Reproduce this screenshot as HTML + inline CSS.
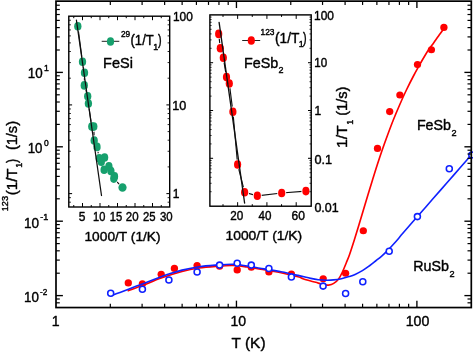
<!DOCTYPE html>
<html><head><meta charset="utf-8"><title>plot</title>
<style>html,body{margin:0;padding:0;background:#fff}svg{display:block}text{font-family:"Liberation Sans",sans-serif;stroke:#000;stroke-width:0.4px;stroke-linejoin:round}</style>
</head><body>
<svg width="473" height="352" viewBox="0 0 473 352">
<defs><filter id="soft" x="0" y="0" width="473" height="352" filterUnits="userSpaceOnUse"><feGaussianBlur stdDeviation="0.35"/></filter></defs>
<rect width="473" height="352" fill="#fff"/>
<g filter="url(#soft)">
<path d="M128.30,290.60 C130.65,289.75 136.92,287.60 142.40,285.50 C147.88,283.40 154.60,280.33 161.20,278.00 C167.80,275.67 175.70,273.17 182.00,271.50 C188.30,269.83 193.33,268.87 199.00,268.00 C204.67,267.13 210.33,266.72 216.00,266.30 C221.67,265.88 227.83,265.38 233.00,265.50 C238.17,265.62 241.83,266.28 247.00,267.00 C252.17,267.72 258.33,268.83 264.00,269.80 C269.67,270.77 275.33,271.63 281.00,272.80 C286.67,273.97 294.33,275.82 298.00,276.80 C301.67,277.78 300.88,278.00 303.00,278.70 C305.12,279.40 308.15,280.27 310.70,281.00 C313.25,281.73 316.17,282.48 318.30,283.10 C320.43,283.72 321.78,284.37 323.50,284.70 C325.22,285.03 326.90,285.32 328.60,285.10 C330.30,284.88 332.00,284.47 333.70,283.40 C335.40,282.33 337.32,280.67 338.80,278.70 C340.28,276.73 341.35,274.27 342.60,271.60 C343.85,268.93 345.17,265.47 346.30,262.70 C347.43,259.93 348.07,258.78 349.40,255.00 C350.73,251.22 352.72,245.00 354.30,240.00 C355.88,235.00 357.38,230.00 358.90,225.00 C360.42,220.00 361.90,215.00 363.40,210.00 C364.90,205.00 366.38,200.00 367.90,195.00 C369.42,190.00 370.95,185.00 372.50,180.00 C374.05,175.00 375.58,170.00 377.20,165.00 C378.82,160.00 380.47,155.00 382.20,150.00 C383.93,145.00 385.75,140.00 387.60,135.00 C389.45,130.00 391.30,125.00 393.30,120.00 C395.30,115.00 397.42,110.00 399.60,105.00 C401.78,100.00 404.00,95.00 406.40,90.00 C408.80,85.00 411.53,79.67 414.00,75.00 C416.47,70.33 419.22,65.50 421.20,62.00 C423.18,58.50 424.63,56.10 425.90,54.00 C427.17,51.90 427.77,50.90 428.80,49.40 C429.83,47.90 430.98,46.53 432.10,45.00 C433.22,43.47 434.37,41.78 435.50,40.20 C436.63,38.62 437.77,37.08 438.90,35.50 C440.03,33.92 441.47,32.02 442.30,30.70 C443.13,29.38 443.63,28.12 443.90,27.60" fill="none" stroke="#ff0000" stroke-width="1.65" stroke-linecap="round"/>
<ellipse cx="128.3" cy="282.9" rx="3.65" ry="3.55" fill="#ff0000"/>
<ellipse cx="142.4" cy="283.8" rx="3.65" ry="3.55" fill="#ff0000"/>
<ellipse cx="161.2" cy="274.2" rx="3.65" ry="3.55" fill="#ff0000"/>
<ellipse cx="174.4" cy="268.4" rx="3.65" ry="3.55" fill="#ff0000"/>
<ellipse cx="197.1" cy="265.5" rx="3.65" ry="3.55" fill="#ff0000"/>
<ellipse cx="219.6" cy="266.3" rx="3.65" ry="3.55" fill="#ff0000"/>
<ellipse cx="237.2" cy="269.9" rx="3.65" ry="3.55" fill="#ff0000"/>
<ellipse cx="251.3" cy="267.2" rx="3.65" ry="3.55" fill="#ff0000"/>
<ellipse cx="268.9" cy="272" rx="3.65" ry="3.55" fill="#ff0000"/>
<ellipse cx="291.4" cy="274" rx="3.65" ry="3.55" fill="#ff0000"/>
<ellipse cx="323.2" cy="278.7" rx="3.65" ry="3.55" fill="#ff0000"/>
<ellipse cx="345.6" cy="273.2" rx="3.65" ry="3.55" fill="#ff0000"/>
<ellipse cx="363.3" cy="230.7" rx="3.65" ry="3.55" fill="#ff0000"/>
<ellipse cx="377.5" cy="148.4" rx="3.65" ry="3.55" fill="#ff0000"/>
<ellipse cx="389.7" cy="111.6" rx="3.65" ry="3.55" fill="#ff0000"/>
<ellipse cx="399.9" cy="95" rx="3.65" ry="3.55" fill="#ff0000"/>
<ellipse cx="417.5" cy="64.6" rx="3.65" ry="3.55" fill="#ff0000"/>
<ellipse cx="431.4" cy="49.8" rx="3.65" ry="3.55" fill="#ff0000"/>
<ellipse cx="443.9" cy="27.4" rx="3.65" ry="3.55" fill="#ff0000"/>
<path d="M111.20,295.70 C112.67,295.15 117.02,293.53 120.00,292.40 C122.98,291.27 125.37,290.32 129.10,288.90 C132.83,287.48 138.58,285.35 142.40,283.90 C146.22,282.45 148.87,281.38 152.00,280.20 C155.13,279.02 158.38,277.83 161.20,276.80 C164.02,275.77 165.43,275.12 168.90,274.00 C172.37,272.88 176.98,271.32 182.00,270.10 C187.02,268.88 193.33,267.53 199.00,266.70 C204.67,265.87 210.28,265.50 216.00,265.10 C221.72,264.70 228.13,264.15 233.30,264.30 C238.47,264.45 241.88,265.23 247.00,266.00 C252.12,266.77 258.33,267.93 264.00,268.90 C269.67,269.87 275.33,270.72 281.00,271.80 C286.67,272.88 293.05,274.30 298.00,275.40 C302.95,276.50 307.32,277.68 310.70,278.40 C314.08,279.12 315.75,279.40 318.30,279.70 C320.85,280.00 323.43,280.17 326.00,280.20 C328.57,280.23 331.13,280.15 333.70,279.90 C336.27,279.65 338.85,279.25 341.40,278.70 C343.95,278.15 346.72,277.32 349.00,276.60 C351.28,275.88 352.80,275.43 355.10,274.40 C357.40,273.37 360.45,271.80 362.80,270.40 C365.15,269.00 367.07,267.57 369.20,266.00 C371.33,264.43 373.47,262.70 375.60,261.00 C377.73,259.30 379.85,257.70 382.00,255.80 C384.15,253.90 386.37,251.77 388.50,249.60 C390.63,247.43 392.45,245.47 394.80,242.80 C397.15,240.13 399.60,237.10 402.60,233.60 C405.60,230.10 408.97,226.20 412.80,221.80 C416.63,217.40 420.87,212.60 425.60,207.20 C430.33,201.80 436.48,194.78 441.20,189.40 C445.92,184.02 449.22,180.25 453.90,174.90 C458.58,169.55 466.45,160.55 469.30,157.30 C472.15,154.05 470.72,155.72 471.00,155.40" fill="none" stroke="#1020ff" stroke-width="1.6" stroke-linecap="round"/>
<ellipse cx="110.7" cy="293.2" rx="3.0" ry="3.0" fill="#fff" stroke="#1020ff" stroke-width="1.55"/>
<ellipse cx="142.4" cy="289.2" rx="3.0" ry="3.0" fill="#fff" stroke="#1020ff" stroke-width="1.55"/>
<ellipse cx="168.9" cy="279.9" rx="3.0" ry="3.0" fill="#fff" stroke="#1020ff" stroke-width="1.55"/>
<ellipse cx="197.1" cy="272" rx="3.0" ry="3.0" fill="#fff" stroke="#1020ff" stroke-width="1.55"/>
<ellipse cx="219.6" cy="265.1" rx="3.0" ry="3.0" fill="#fff" stroke="#1020ff" stroke-width="1.55"/>
<ellipse cx="237.2" cy="263.3" rx="3.0" ry="3.0" fill="#fff" stroke="#1020ff" stroke-width="1.55"/>
<ellipse cx="251.3" cy="265.1" rx="3.0" ry="3.0" fill="#fff" stroke="#1020ff" stroke-width="1.55"/>
<ellipse cx="268.9" cy="268.4" rx="3.0" ry="3.0" fill="#fff" stroke="#1020ff" stroke-width="1.55"/>
<ellipse cx="291.4" cy="276.9" rx="3.0" ry="3.0" fill="#fff" stroke="#1020ff" stroke-width="1.55"/>
<ellipse cx="323.1" cy="286.1" rx="3.0" ry="3.0" fill="#fff" stroke="#1020ff" stroke-width="1.55"/>
<ellipse cx="345.6" cy="293.4" rx="3.0" ry="3.0" fill="#fff" stroke="#1020ff" stroke-width="1.55"/>
<ellipse cx="362.8" cy="281.7" rx="3.0" ry="3.0" fill="#fff" stroke="#1020ff" stroke-width="1.55"/>
<ellipse cx="389.2" cy="251.2" rx="3.0" ry="3.0" fill="#fff" stroke="#1020ff" stroke-width="1.55"/>
<ellipse cx="417.4" cy="216.6" rx="3.0" ry="3.0" fill="#fff" stroke="#1020ff" stroke-width="1.55"/>
<ellipse cx="449.3" cy="168.7" rx="3.0" ry="3.0" fill="#fff" stroke="#1020ff" stroke-width="1.55"/>
<ellipse cx="471.8" cy="154.9" rx="3.0" ry="3.0" fill="#fff" stroke="#1020ff" stroke-width="1.55"/>
<rect x="68.8" y="16.2" width="100.90" height="190.80" fill="#fff" stroke="none"/>
<rect x="209.9" y="14.9" width="101.30" height="191.30" fill="#fff" stroke="none"/>
<polyline points="77.8,26.3 82.5,61.8 84.5,72.8 84.3,85.4 87.7,96.3 88.4,103.5 91.8,126.6 93.8,126.6 94.2,140.5 97,146.9 99.3,158.3 101.3,161.8 104.6,157.5 104.1,169.8 108.9,166.4 110.9,171.1 114.5,176.4 113.8,178.6 122.5,187.5" fill="none" stroke="#111" stroke-width="1.1"/>
<ellipse cx="77.8" cy="26.3" rx="4.6" ry="5.2" fill="#fff"/>
<ellipse cx="82.5" cy="61.8" rx="4.6" ry="5.2" fill="#fff"/>
<ellipse cx="84.5" cy="72.8" rx="4.6" ry="5.2" fill="#fff"/>
<ellipse cx="84.3" cy="85.4" rx="4.6" ry="5.2" fill="#fff"/>
<ellipse cx="87.7" cy="96.3" rx="4.6" ry="5.2" fill="#fff"/>
<ellipse cx="88.4" cy="103.5" rx="4.6" ry="5.2" fill="#fff"/>
<ellipse cx="91.8" cy="126.6" rx="4.6" ry="5.2" fill="#fff"/>
<ellipse cx="93.8" cy="126.6" rx="4.6" ry="5.2" fill="#fff"/>
<ellipse cx="94.2" cy="140.5" rx="4.6" ry="5.2" fill="#fff"/>
<ellipse cx="97" cy="146.9" rx="4.6" ry="5.2" fill="#fff"/>
<ellipse cx="99.3" cy="158.3" rx="4.6" ry="5.2" fill="#fff"/>
<ellipse cx="101.3" cy="161.8" rx="4.6" ry="5.2" fill="#fff"/>
<ellipse cx="104.6" cy="157.5" rx="4.6" ry="5.2" fill="#fff"/>
<ellipse cx="104.1" cy="169.8" rx="4.6" ry="5.2" fill="#fff"/>
<ellipse cx="108.9" cy="166.4" rx="4.6" ry="5.2" fill="#fff"/>
<ellipse cx="110.9" cy="171.1" rx="4.6" ry="5.2" fill="#fff"/>
<ellipse cx="114.5" cy="176.4" rx="4.6" ry="5.2" fill="#fff"/>
<ellipse cx="113.8" cy="178.6" rx="4.6" ry="5.2" fill="#fff"/>
<ellipse cx="122.5" cy="187.5" rx="4.6" ry="5.2" fill="#fff"/>
<ellipse cx="77.8" cy="26.3" rx="3.65" ry="4.3" fill="#18a06d"/>
<ellipse cx="82.5" cy="61.8" rx="3.65" ry="4.3" fill="#18a06d"/>
<ellipse cx="84.5" cy="72.8" rx="3.65" ry="4.3" fill="#18a06d"/>
<ellipse cx="84.3" cy="85.4" rx="3.65" ry="4.3" fill="#18a06d"/>
<ellipse cx="87.7" cy="96.3" rx="3.65" ry="4.3" fill="#18a06d"/>
<ellipse cx="88.4" cy="103.5" rx="3.65" ry="4.3" fill="#18a06d"/>
<ellipse cx="91.8" cy="126.6" rx="3.65" ry="4.3" fill="#18a06d"/>
<ellipse cx="93.8" cy="126.6" rx="3.65" ry="4.3" fill="#18a06d"/>
<ellipse cx="94.2" cy="140.5" rx="3.65" ry="4.3" fill="#18a06d"/>
<ellipse cx="97" cy="146.9" rx="3.65" ry="4.3" fill="#18a06d"/>
<ellipse cx="99.3" cy="158.3" rx="3.65" ry="4.3" fill="#18a06d"/>
<ellipse cx="101.3" cy="161.8" rx="3.65" ry="4.3" fill="#18a06d"/>
<ellipse cx="104.6" cy="157.5" rx="3.65" ry="4.3" fill="#18a06d"/>
<ellipse cx="104.1" cy="169.8" rx="3.65" ry="4.3" fill="#18a06d"/>
<ellipse cx="108.9" cy="166.4" rx="3.65" ry="4.3" fill="#18a06d"/>
<ellipse cx="110.9" cy="171.1" rx="3.65" ry="4.3" fill="#18a06d"/>
<ellipse cx="114.5" cy="176.4" rx="3.65" ry="4.3" fill="#18a06d"/>
<ellipse cx="113.8" cy="178.6" rx="3.65" ry="4.3" fill="#18a06d"/>
<ellipse cx="122.5" cy="187.5" rx="4.1" ry="4.3" fill="#18a06d"/>
<line x1="76.40" y1="20.10" x2="101.50" y2="195.50" stroke="#111" stroke-width="1.25" stroke-linecap="round"/>
<line x1="101.70" y1="41.30" x2="119.30" y2="41.30" stroke="#222" stroke-width="1.0" stroke-linecap="butt"/>
<ellipse cx="110.5" cy="41.5" rx="3.6" ry="4.3" fill="#18a06d"/>
<polyline points="218.7,33.9 220.3,48.2 223.3,57.7 226.5,77.1 229.3,83.5 232.9,111.7 237.6,164.5 244.6,192.2 257.3,195.8 281.7,193 305.9,191.1" fill="none" stroke="#111" stroke-width="1.15"/>
<ellipse cx="218.7" cy="33.9" rx="4.5" ry="5.1" fill="#fff"/>
<ellipse cx="220.3" cy="48.2" rx="4.5" ry="5.1" fill="#fff"/>
<ellipse cx="223.3" cy="57.7" rx="4.5" ry="5.1" fill="#fff"/>
<ellipse cx="226.5" cy="77.1" rx="4.5" ry="5.1" fill="#fff"/>
<ellipse cx="229.3" cy="83.5" rx="4.5" ry="5.1" fill="#fff"/>
<ellipse cx="232.9" cy="111.7" rx="4.5" ry="5.1" fill="#fff"/>
<ellipse cx="237.6" cy="164.5" rx="4.5" ry="5.1" fill="#fff"/>
<ellipse cx="244.6" cy="192.2" rx="4.5" ry="5.1" fill="#fff"/>
<ellipse cx="257.3" cy="195.8" rx="4.5" ry="5.1" fill="#fff"/>
<ellipse cx="281.7" cy="193" rx="4.5" ry="5.1" fill="#fff"/>
<ellipse cx="305.9" cy="191.1" rx="4.5" ry="5.1" fill="#fff"/>
<ellipse cx="218.7" cy="33.9" rx="3.6" ry="4.3" fill="#ff0000"/>
<ellipse cx="220.3" cy="48.2" rx="3.6" ry="4.3" fill="#ff0000"/>
<ellipse cx="223.3" cy="57.7" rx="3.6" ry="4.3" fill="#ff0000"/>
<ellipse cx="226.5" cy="77.1" rx="3.6" ry="4.3" fill="#ff0000"/>
<ellipse cx="229.3" cy="83.5" rx="3.6" ry="4.3" fill="#ff0000"/>
<ellipse cx="232.9" cy="111.7" rx="3.6" ry="4.3" fill="#ff0000"/>
<ellipse cx="237.6" cy="164.5" rx="3.6" ry="4.3" fill="#ff0000"/>
<ellipse cx="244.6" cy="192.2" rx="3.6" ry="4.3" fill="#ff0000"/>
<ellipse cx="257.3" cy="195.8" rx="3.6" ry="4.3" fill="#ff0000"/>
<ellipse cx="281.7" cy="193" rx="3.6" ry="4.3" fill="#ff0000"/>
<ellipse cx="305.9" cy="191.1" rx="3.6" ry="4.3" fill="#ff0000"/>
<line x1="219.10" y1="22.40" x2="244.60" y2="203.00" stroke="#111" stroke-width="1.35" stroke-linecap="round"/>
<line x1="242.20" y1="40.50" x2="260.20" y2="40.50" stroke="#222" stroke-width="1.0" stroke-linecap="butt"/>
<ellipse cx="251.3" cy="40.5" rx="3.6" ry="4.3" fill="#ff0000"/>
<rect x="56.0" y="1.15" width="415.30" height="306.40" fill="none" stroke="#000" stroke-width="1.7"/>
<line x1="110.32" y1="307.55" x2="110.32" y2="303.75" stroke="#000" stroke-width="1.2" stroke-linecap="butt"/>
<line x1="110.32" y1="1.15" x2="110.32" y2="4.95" stroke="#000" stroke-width="1.2" stroke-linecap="butt"/>
<line x1="142.10" y1="307.55" x2="142.10" y2="303.75" stroke="#000" stroke-width="1.2" stroke-linecap="butt"/>
<line x1="142.10" y1="1.15" x2="142.10" y2="4.95" stroke="#000" stroke-width="1.2" stroke-linecap="butt"/>
<line x1="164.64" y1="307.55" x2="164.64" y2="303.75" stroke="#000" stroke-width="1.2" stroke-linecap="butt"/>
<line x1="164.64" y1="1.15" x2="164.64" y2="4.95" stroke="#000" stroke-width="1.2" stroke-linecap="butt"/>
<line x1="182.13" y1="307.55" x2="182.13" y2="303.75" stroke="#000" stroke-width="1.2" stroke-linecap="butt"/>
<line x1="182.13" y1="1.15" x2="182.13" y2="4.95" stroke="#000" stroke-width="1.2" stroke-linecap="butt"/>
<line x1="196.42" y1="307.55" x2="196.42" y2="303.75" stroke="#000" stroke-width="1.2" stroke-linecap="butt"/>
<line x1="196.42" y1="1.15" x2="196.42" y2="4.95" stroke="#000" stroke-width="1.2" stroke-linecap="butt"/>
<line x1="208.50" y1="307.55" x2="208.50" y2="303.75" stroke="#000" stroke-width="1.2" stroke-linecap="butt"/>
<line x1="208.50" y1="1.15" x2="208.50" y2="4.95" stroke="#000" stroke-width="1.2" stroke-linecap="butt"/>
<line x1="218.96" y1="307.55" x2="218.96" y2="303.75" stroke="#000" stroke-width="1.2" stroke-linecap="butt"/>
<line x1="218.96" y1="1.15" x2="218.96" y2="4.95" stroke="#000" stroke-width="1.2" stroke-linecap="butt"/>
<line x1="228.19" y1="307.55" x2="228.19" y2="303.75" stroke="#000" stroke-width="1.2" stroke-linecap="butt"/>
<line x1="228.19" y1="1.15" x2="228.19" y2="4.95" stroke="#000" stroke-width="1.2" stroke-linecap="butt"/>
<line x1="236.45" y1="307.55" x2="236.45" y2="300.65" stroke="#000" stroke-width="1.35" stroke-linecap="butt"/>
<line x1="236.45" y1="1.15" x2="236.45" y2="8.05" stroke="#000" stroke-width="1.35" stroke-linecap="butt"/>
<line x1="290.77" y1="307.55" x2="290.77" y2="303.75" stroke="#000" stroke-width="1.2" stroke-linecap="butt"/>
<line x1="290.77" y1="1.15" x2="290.77" y2="4.95" stroke="#000" stroke-width="1.2" stroke-linecap="butt"/>
<line x1="322.55" y1="307.55" x2="322.55" y2="303.75" stroke="#000" stroke-width="1.2" stroke-linecap="butt"/>
<line x1="322.55" y1="1.15" x2="322.55" y2="4.95" stroke="#000" stroke-width="1.2" stroke-linecap="butt"/>
<line x1="345.09" y1="307.55" x2="345.09" y2="303.75" stroke="#000" stroke-width="1.2" stroke-linecap="butt"/>
<line x1="345.09" y1="1.15" x2="345.09" y2="4.95" stroke="#000" stroke-width="1.2" stroke-linecap="butt"/>
<line x1="362.58" y1="307.55" x2="362.58" y2="303.75" stroke="#000" stroke-width="1.2" stroke-linecap="butt"/>
<line x1="362.58" y1="1.15" x2="362.58" y2="4.95" stroke="#000" stroke-width="1.2" stroke-linecap="butt"/>
<line x1="376.87" y1="307.55" x2="376.87" y2="303.75" stroke="#000" stroke-width="1.2" stroke-linecap="butt"/>
<line x1="376.87" y1="1.15" x2="376.87" y2="4.95" stroke="#000" stroke-width="1.2" stroke-linecap="butt"/>
<line x1="388.95" y1="307.55" x2="388.95" y2="303.75" stroke="#000" stroke-width="1.2" stroke-linecap="butt"/>
<line x1="388.95" y1="1.15" x2="388.95" y2="4.95" stroke="#000" stroke-width="1.2" stroke-linecap="butt"/>
<line x1="399.41" y1="307.55" x2="399.41" y2="303.75" stroke="#000" stroke-width="1.2" stroke-linecap="butt"/>
<line x1="399.41" y1="1.15" x2="399.41" y2="4.95" stroke="#000" stroke-width="1.2" stroke-linecap="butt"/>
<line x1="408.64" y1="307.55" x2="408.64" y2="303.75" stroke="#000" stroke-width="1.2" stroke-linecap="butt"/>
<line x1="408.64" y1="1.15" x2="408.64" y2="4.95" stroke="#000" stroke-width="1.2" stroke-linecap="butt"/>
<line x1="416.90" y1="307.55" x2="416.90" y2="300.65" stroke="#000" stroke-width="1.35" stroke-linecap="butt"/>
<line x1="416.90" y1="1.15" x2="416.90" y2="8.05" stroke="#000" stroke-width="1.35" stroke-linecap="butt"/>
<line x1="56.00" y1="302.81" x2="59.80" y2="302.81" stroke="#000" stroke-width="1.2" stroke-linecap="butt"/>
<line x1="471.30" y1="302.81" x2="467.50" y2="302.81" stroke="#000" stroke-width="1.2" stroke-linecap="butt"/>
<line x1="56.00" y1="299.00" x2="59.80" y2="299.00" stroke="#000" stroke-width="1.2" stroke-linecap="butt"/>
<line x1="471.30" y1="299.00" x2="467.50" y2="299.00" stroke="#000" stroke-width="1.2" stroke-linecap="butt"/>
<line x1="56.00" y1="295.60" x2="62.90" y2="295.60" stroke="#000" stroke-width="1.35" stroke-linecap="butt"/>
<line x1="471.30" y1="295.60" x2="464.40" y2="295.60" stroke="#000" stroke-width="1.35" stroke-linecap="butt"/>
<line x1="56.00" y1="273.20" x2="59.80" y2="273.20" stroke="#000" stroke-width="1.2" stroke-linecap="butt"/>
<line x1="471.30" y1="273.20" x2="467.50" y2="273.20" stroke="#000" stroke-width="1.2" stroke-linecap="butt"/>
<line x1="56.00" y1="260.10" x2="59.80" y2="260.10" stroke="#000" stroke-width="1.2" stroke-linecap="butt"/>
<line x1="471.30" y1="260.10" x2="467.50" y2="260.10" stroke="#000" stroke-width="1.2" stroke-linecap="butt"/>
<line x1="56.00" y1="250.81" x2="59.80" y2="250.81" stroke="#000" stroke-width="1.2" stroke-linecap="butt"/>
<line x1="471.30" y1="250.81" x2="467.50" y2="250.81" stroke="#000" stroke-width="1.2" stroke-linecap="butt"/>
<line x1="56.00" y1="243.60" x2="59.80" y2="243.60" stroke="#000" stroke-width="1.2" stroke-linecap="butt"/>
<line x1="471.30" y1="243.60" x2="467.50" y2="243.60" stroke="#000" stroke-width="1.2" stroke-linecap="butt"/>
<line x1="56.00" y1="237.71" x2="59.80" y2="237.71" stroke="#000" stroke-width="1.2" stroke-linecap="butt"/>
<line x1="471.30" y1="237.71" x2="467.50" y2="237.71" stroke="#000" stroke-width="1.2" stroke-linecap="butt"/>
<line x1="56.00" y1="232.72" x2="59.80" y2="232.72" stroke="#000" stroke-width="1.2" stroke-linecap="butt"/>
<line x1="471.30" y1="232.72" x2="467.50" y2="232.72" stroke="#000" stroke-width="1.2" stroke-linecap="butt"/>
<line x1="56.00" y1="228.41" x2="59.80" y2="228.41" stroke="#000" stroke-width="1.2" stroke-linecap="butt"/>
<line x1="471.30" y1="228.41" x2="467.50" y2="228.41" stroke="#000" stroke-width="1.2" stroke-linecap="butt"/>
<line x1="56.00" y1="224.60" x2="59.80" y2="224.60" stroke="#000" stroke-width="1.2" stroke-linecap="butt"/>
<line x1="471.30" y1="224.60" x2="467.50" y2="224.60" stroke="#000" stroke-width="1.2" stroke-linecap="butt"/>
<line x1="56.00" y1="221.20" x2="62.90" y2="221.20" stroke="#000" stroke-width="1.35" stroke-linecap="butt"/>
<line x1="471.30" y1="221.20" x2="464.40" y2="221.20" stroke="#000" stroke-width="1.35" stroke-linecap="butt"/>
<line x1="56.00" y1="198.80" x2="59.80" y2="198.80" stroke="#000" stroke-width="1.2" stroke-linecap="butt"/>
<line x1="471.30" y1="198.80" x2="467.50" y2="198.80" stroke="#000" stroke-width="1.2" stroke-linecap="butt"/>
<line x1="56.00" y1="185.70" x2="59.80" y2="185.70" stroke="#000" stroke-width="1.2" stroke-linecap="butt"/>
<line x1="471.30" y1="185.70" x2="467.50" y2="185.70" stroke="#000" stroke-width="1.2" stroke-linecap="butt"/>
<line x1="56.00" y1="176.41" x2="59.80" y2="176.41" stroke="#000" stroke-width="1.2" stroke-linecap="butt"/>
<line x1="471.30" y1="176.41" x2="467.50" y2="176.41" stroke="#000" stroke-width="1.2" stroke-linecap="butt"/>
<line x1="56.00" y1="169.20" x2="59.80" y2="169.20" stroke="#000" stroke-width="1.2" stroke-linecap="butt"/>
<line x1="471.30" y1="169.20" x2="467.50" y2="169.20" stroke="#000" stroke-width="1.2" stroke-linecap="butt"/>
<line x1="56.00" y1="163.31" x2="59.80" y2="163.31" stroke="#000" stroke-width="1.2" stroke-linecap="butt"/>
<line x1="471.30" y1="163.31" x2="467.50" y2="163.31" stroke="#000" stroke-width="1.2" stroke-linecap="butt"/>
<line x1="56.00" y1="158.32" x2="59.80" y2="158.32" stroke="#000" stroke-width="1.2" stroke-linecap="butt"/>
<line x1="471.30" y1="158.32" x2="467.50" y2="158.32" stroke="#000" stroke-width="1.2" stroke-linecap="butt"/>
<line x1="56.00" y1="154.01" x2="59.80" y2="154.01" stroke="#000" stroke-width="1.2" stroke-linecap="butt"/>
<line x1="471.30" y1="154.01" x2="467.50" y2="154.01" stroke="#000" stroke-width="1.2" stroke-linecap="butt"/>
<line x1="56.00" y1="150.20" x2="59.80" y2="150.20" stroke="#000" stroke-width="1.2" stroke-linecap="butt"/>
<line x1="471.30" y1="150.20" x2="467.50" y2="150.20" stroke="#000" stroke-width="1.2" stroke-linecap="butt"/>
<line x1="56.00" y1="146.80" x2="62.90" y2="146.80" stroke="#000" stroke-width="1.35" stroke-linecap="butt"/>
<line x1="471.30" y1="146.80" x2="464.40" y2="146.80" stroke="#000" stroke-width="1.35" stroke-linecap="butt"/>
<line x1="56.00" y1="124.40" x2="59.80" y2="124.40" stroke="#000" stroke-width="1.2" stroke-linecap="butt"/>
<line x1="471.30" y1="124.40" x2="467.50" y2="124.40" stroke="#000" stroke-width="1.2" stroke-linecap="butt"/>
<line x1="56.00" y1="111.30" x2="59.80" y2="111.30" stroke="#000" stroke-width="1.2" stroke-linecap="butt"/>
<line x1="471.30" y1="111.30" x2="467.50" y2="111.30" stroke="#000" stroke-width="1.2" stroke-linecap="butt"/>
<line x1="56.00" y1="102.01" x2="59.80" y2="102.01" stroke="#000" stroke-width="1.2" stroke-linecap="butt"/>
<line x1="471.30" y1="102.01" x2="467.50" y2="102.01" stroke="#000" stroke-width="1.2" stroke-linecap="butt"/>
<line x1="56.00" y1="94.80" x2="59.80" y2="94.80" stroke="#000" stroke-width="1.2" stroke-linecap="butt"/>
<line x1="471.30" y1="94.80" x2="467.50" y2="94.80" stroke="#000" stroke-width="1.2" stroke-linecap="butt"/>
<line x1="56.00" y1="88.91" x2="59.80" y2="88.91" stroke="#000" stroke-width="1.2" stroke-linecap="butt"/>
<line x1="471.30" y1="88.91" x2="467.50" y2="88.91" stroke="#000" stroke-width="1.2" stroke-linecap="butt"/>
<line x1="56.00" y1="83.92" x2="59.80" y2="83.92" stroke="#000" stroke-width="1.2" stroke-linecap="butt"/>
<line x1="471.30" y1="83.92" x2="467.50" y2="83.92" stroke="#000" stroke-width="1.2" stroke-linecap="butt"/>
<line x1="56.00" y1="79.61" x2="59.80" y2="79.61" stroke="#000" stroke-width="1.2" stroke-linecap="butt"/>
<line x1="471.30" y1="79.61" x2="467.50" y2="79.61" stroke="#000" stroke-width="1.2" stroke-linecap="butt"/>
<line x1="56.00" y1="75.80" x2="59.80" y2="75.80" stroke="#000" stroke-width="1.2" stroke-linecap="butt"/>
<line x1="471.30" y1="75.80" x2="467.50" y2="75.80" stroke="#000" stroke-width="1.2" stroke-linecap="butt"/>
<line x1="56.00" y1="72.40" x2="62.90" y2="72.40" stroke="#000" stroke-width="1.35" stroke-linecap="butt"/>
<line x1="471.30" y1="72.40" x2="464.40" y2="72.40" stroke="#000" stroke-width="1.35" stroke-linecap="butt"/>
<line x1="56.00" y1="50.00" x2="59.80" y2="50.00" stroke="#000" stroke-width="1.2" stroke-linecap="butt"/>
<line x1="471.30" y1="50.00" x2="467.50" y2="50.00" stroke="#000" stroke-width="1.2" stroke-linecap="butt"/>
<line x1="56.00" y1="36.90" x2="59.80" y2="36.90" stroke="#000" stroke-width="1.2" stroke-linecap="butt"/>
<line x1="471.30" y1="36.90" x2="467.50" y2="36.90" stroke="#000" stroke-width="1.2" stroke-linecap="butt"/>
<line x1="56.00" y1="27.61" x2="59.80" y2="27.61" stroke="#000" stroke-width="1.2" stroke-linecap="butt"/>
<line x1="471.30" y1="27.61" x2="467.50" y2="27.61" stroke="#000" stroke-width="1.2" stroke-linecap="butt"/>
<line x1="56.00" y1="20.40" x2="59.80" y2="20.40" stroke="#000" stroke-width="1.2" stroke-linecap="butt"/>
<line x1="471.30" y1="20.40" x2="467.50" y2="20.40" stroke="#000" stroke-width="1.2" stroke-linecap="butt"/>
<line x1="56.00" y1="14.51" x2="59.80" y2="14.51" stroke="#000" stroke-width="1.2" stroke-linecap="butt"/>
<line x1="471.30" y1="14.51" x2="467.50" y2="14.51" stroke="#000" stroke-width="1.2" stroke-linecap="butt"/>
<line x1="56.00" y1="9.52" x2="59.80" y2="9.52" stroke="#000" stroke-width="1.2" stroke-linecap="butt"/>
<line x1="471.30" y1="9.52" x2="467.50" y2="9.52" stroke="#000" stroke-width="1.2" stroke-linecap="butt"/>
<line x1="56.00" y1="5.21" x2="59.80" y2="5.21" stroke="#000" stroke-width="1.2" stroke-linecap="butt"/>
<line x1="471.30" y1="5.21" x2="467.50" y2="5.21" stroke="#000" stroke-width="1.2" stroke-linecap="butt"/>
<rect x="68.8" y="16.2" width="100.90" height="190.80" fill="none" stroke="#000" stroke-width="1.4"/>
<line x1="73.75" y1="207.00" x2="73.75" y2="205.00" stroke="#000" stroke-width="1.0" stroke-linecap="butt"/>
<line x1="73.75" y1="16.20" x2="73.75" y2="18.20" stroke="#000" stroke-width="1.0" stroke-linecap="butt"/>
<line x1="82.50" y1="207.00" x2="82.50" y2="203.00" stroke="#000" stroke-width="1.0" stroke-linecap="butt"/>
<line x1="82.50" y1="16.20" x2="82.50" y2="20.20" stroke="#000" stroke-width="1.0" stroke-linecap="butt"/>
<line x1="91.25" y1="207.00" x2="91.25" y2="205.00" stroke="#000" stroke-width="1.0" stroke-linecap="butt"/>
<line x1="91.25" y1="16.20" x2="91.25" y2="18.20" stroke="#000" stroke-width="1.0" stroke-linecap="butt"/>
<line x1="100.00" y1="207.00" x2="100.00" y2="203.00" stroke="#000" stroke-width="1.0" stroke-linecap="butt"/>
<line x1="100.00" y1="16.20" x2="100.00" y2="20.20" stroke="#000" stroke-width="1.0" stroke-linecap="butt"/>
<line x1="108.75" y1="207.00" x2="108.75" y2="205.00" stroke="#000" stroke-width="1.0" stroke-linecap="butt"/>
<line x1="108.75" y1="16.20" x2="108.75" y2="18.20" stroke="#000" stroke-width="1.0" stroke-linecap="butt"/>
<line x1="117.50" y1="207.00" x2="117.50" y2="203.00" stroke="#000" stroke-width="1.0" stroke-linecap="butt"/>
<line x1="117.50" y1="16.20" x2="117.50" y2="20.20" stroke="#000" stroke-width="1.0" stroke-linecap="butt"/>
<line x1="126.25" y1="207.00" x2="126.25" y2="205.00" stroke="#000" stroke-width="1.0" stroke-linecap="butt"/>
<line x1="126.25" y1="16.20" x2="126.25" y2="18.20" stroke="#000" stroke-width="1.0" stroke-linecap="butt"/>
<line x1="135.00" y1="207.00" x2="135.00" y2="203.00" stroke="#000" stroke-width="1.0" stroke-linecap="butt"/>
<line x1="135.00" y1="16.20" x2="135.00" y2="20.20" stroke="#000" stroke-width="1.0" stroke-linecap="butt"/>
<line x1="143.75" y1="207.00" x2="143.75" y2="205.00" stroke="#000" stroke-width="1.0" stroke-linecap="butt"/>
<line x1="143.75" y1="16.20" x2="143.75" y2="18.20" stroke="#000" stroke-width="1.0" stroke-linecap="butt"/>
<line x1="152.50" y1="207.00" x2="152.50" y2="203.00" stroke="#000" stroke-width="1.0" stroke-linecap="butt"/>
<line x1="152.50" y1="16.20" x2="152.50" y2="20.20" stroke="#000" stroke-width="1.0" stroke-linecap="butt"/>
<line x1="161.25" y1="207.00" x2="161.25" y2="205.00" stroke="#000" stroke-width="1.0" stroke-linecap="butt"/>
<line x1="161.25" y1="16.20" x2="161.25" y2="18.20" stroke="#000" stroke-width="1.0" stroke-linecap="butt"/>
<line x1="68.80" y1="202.20" x2="70.90" y2="202.20" stroke="#000" stroke-width="0.85" stroke-linecap="butt"/>
<line x1="169.70" y1="202.20" x2="167.60" y2="202.20" stroke="#000" stroke-width="0.85" stroke-linecap="butt"/>
<line x1="68.80" y1="197.66" x2="70.90" y2="197.66" stroke="#000" stroke-width="0.85" stroke-linecap="butt"/>
<line x1="169.70" y1="197.66" x2="167.60" y2="197.66" stroke="#000" stroke-width="0.85" stroke-linecap="butt"/>
<line x1="68.80" y1="193.60" x2="72.10" y2="193.60" stroke="#000" stroke-width="1.05" stroke-linecap="butt"/>
<line x1="169.70" y1="193.60" x2="166.40" y2="193.60" stroke="#000" stroke-width="1.05" stroke-linecap="butt"/>
<line x1="68.80" y1="166.90" x2="70.90" y2="166.90" stroke="#000" stroke-width="0.85" stroke-linecap="butt"/>
<line x1="169.70" y1="166.90" x2="167.60" y2="166.90" stroke="#000" stroke-width="0.85" stroke-linecap="butt"/>
<line x1="68.80" y1="151.28" x2="70.90" y2="151.28" stroke="#000" stroke-width="0.85" stroke-linecap="butt"/>
<line x1="169.70" y1="151.28" x2="167.60" y2="151.28" stroke="#000" stroke-width="0.85" stroke-linecap="butt"/>
<line x1="68.80" y1="140.20" x2="70.90" y2="140.20" stroke="#000" stroke-width="0.85" stroke-linecap="butt"/>
<line x1="169.70" y1="140.20" x2="167.60" y2="140.20" stroke="#000" stroke-width="0.85" stroke-linecap="butt"/>
<line x1="68.80" y1="131.60" x2="70.90" y2="131.60" stroke="#000" stroke-width="0.85" stroke-linecap="butt"/>
<line x1="169.70" y1="131.60" x2="167.60" y2="131.60" stroke="#000" stroke-width="0.85" stroke-linecap="butt"/>
<line x1="68.80" y1="124.58" x2="70.90" y2="124.58" stroke="#000" stroke-width="0.85" stroke-linecap="butt"/>
<line x1="169.70" y1="124.58" x2="167.60" y2="124.58" stroke="#000" stroke-width="0.85" stroke-linecap="butt"/>
<line x1="68.80" y1="118.64" x2="70.90" y2="118.64" stroke="#000" stroke-width="0.85" stroke-linecap="butt"/>
<line x1="169.70" y1="118.64" x2="167.60" y2="118.64" stroke="#000" stroke-width="0.85" stroke-linecap="butt"/>
<line x1="68.80" y1="113.50" x2="70.90" y2="113.50" stroke="#000" stroke-width="0.85" stroke-linecap="butt"/>
<line x1="169.70" y1="113.50" x2="167.60" y2="113.50" stroke="#000" stroke-width="0.85" stroke-linecap="butt"/>
<line x1="68.80" y1="108.96" x2="70.90" y2="108.96" stroke="#000" stroke-width="0.85" stroke-linecap="butt"/>
<line x1="169.70" y1="108.96" x2="167.60" y2="108.96" stroke="#000" stroke-width="0.85" stroke-linecap="butt"/>
<line x1="68.80" y1="104.90" x2="72.10" y2="104.90" stroke="#000" stroke-width="1.05" stroke-linecap="butt"/>
<line x1="169.70" y1="104.90" x2="166.40" y2="104.90" stroke="#000" stroke-width="1.05" stroke-linecap="butt"/>
<line x1="68.80" y1="78.20" x2="70.90" y2="78.20" stroke="#000" stroke-width="0.85" stroke-linecap="butt"/>
<line x1="169.70" y1="78.20" x2="167.60" y2="78.20" stroke="#000" stroke-width="0.85" stroke-linecap="butt"/>
<line x1="68.80" y1="62.58" x2="70.90" y2="62.58" stroke="#000" stroke-width="0.85" stroke-linecap="butt"/>
<line x1="169.70" y1="62.58" x2="167.60" y2="62.58" stroke="#000" stroke-width="0.85" stroke-linecap="butt"/>
<line x1="68.80" y1="51.50" x2="70.90" y2="51.50" stroke="#000" stroke-width="0.85" stroke-linecap="butt"/>
<line x1="169.70" y1="51.50" x2="167.60" y2="51.50" stroke="#000" stroke-width="0.85" stroke-linecap="butt"/>
<line x1="68.80" y1="42.90" x2="70.90" y2="42.90" stroke="#000" stroke-width="0.85" stroke-linecap="butt"/>
<line x1="169.70" y1="42.90" x2="167.60" y2="42.90" stroke="#000" stroke-width="0.85" stroke-linecap="butt"/>
<line x1="68.80" y1="35.88" x2="70.90" y2="35.88" stroke="#000" stroke-width="0.85" stroke-linecap="butt"/>
<line x1="169.70" y1="35.88" x2="167.60" y2="35.88" stroke="#000" stroke-width="0.85" stroke-linecap="butt"/>
<line x1="68.80" y1="29.94" x2="70.90" y2="29.94" stroke="#000" stroke-width="0.85" stroke-linecap="butt"/>
<line x1="169.70" y1="29.94" x2="167.60" y2="29.94" stroke="#000" stroke-width="0.85" stroke-linecap="butt"/>
<line x1="68.80" y1="24.80" x2="70.90" y2="24.80" stroke="#000" stroke-width="0.85" stroke-linecap="butt"/>
<line x1="169.70" y1="24.80" x2="167.60" y2="24.80" stroke="#000" stroke-width="0.85" stroke-linecap="butt"/>
<line x1="68.80" y1="20.26" x2="70.90" y2="20.26" stroke="#000" stroke-width="0.85" stroke-linecap="butt"/>
<line x1="169.70" y1="20.26" x2="167.60" y2="20.26" stroke="#000" stroke-width="0.85" stroke-linecap="butt"/>
<rect x="209.9" y="14.9" width="101.30" height="191.30" fill="none" stroke="#000" stroke-width="1.4"/>
<line x1="223.00" y1="206.20" x2="223.00" y2="204.20" stroke="#000" stroke-width="1.0" stroke-linecap="butt"/>
<line x1="223.00" y1="14.90" x2="223.00" y2="16.90" stroke="#000" stroke-width="1.0" stroke-linecap="butt"/>
<line x1="237.64" y1="206.20" x2="237.64" y2="202.20" stroke="#000" stroke-width="1.0" stroke-linecap="butt"/>
<line x1="237.64" y1="14.90" x2="237.64" y2="18.90" stroke="#000" stroke-width="1.0" stroke-linecap="butt"/>
<line x1="252.28" y1="206.20" x2="252.28" y2="204.20" stroke="#000" stroke-width="1.0" stroke-linecap="butt"/>
<line x1="252.28" y1="14.90" x2="252.28" y2="16.90" stroke="#000" stroke-width="1.0" stroke-linecap="butt"/>
<line x1="266.92" y1="206.20" x2="266.92" y2="202.20" stroke="#000" stroke-width="1.0" stroke-linecap="butt"/>
<line x1="266.92" y1="14.90" x2="266.92" y2="18.90" stroke="#000" stroke-width="1.0" stroke-linecap="butt"/>
<line x1="281.56" y1="206.20" x2="281.56" y2="204.20" stroke="#000" stroke-width="1.0" stroke-linecap="butt"/>
<line x1="281.56" y1="14.90" x2="281.56" y2="16.90" stroke="#000" stroke-width="1.0" stroke-linecap="butt"/>
<line x1="296.20" y1="206.20" x2="296.20" y2="202.20" stroke="#000" stroke-width="1.0" stroke-linecap="butt"/>
<line x1="296.20" y1="14.90" x2="296.20" y2="18.90" stroke="#000" stroke-width="1.0" stroke-linecap="butt"/>
<line x1="209.90" y1="191.71" x2="211.60" y2="191.71" stroke="#000" stroke-width="0.8" stroke-linecap="butt"/>
<line x1="311.20" y1="191.71" x2="309.50" y2="191.71" stroke="#000" stroke-width="0.8" stroke-linecap="butt"/>
<line x1="209.90" y1="183.29" x2="211.60" y2="183.29" stroke="#000" stroke-width="0.8" stroke-linecap="butt"/>
<line x1="311.20" y1="183.29" x2="309.50" y2="183.29" stroke="#000" stroke-width="0.8" stroke-linecap="butt"/>
<line x1="209.90" y1="177.32" x2="211.60" y2="177.32" stroke="#000" stroke-width="0.8" stroke-linecap="butt"/>
<line x1="311.20" y1="177.32" x2="309.50" y2="177.32" stroke="#000" stroke-width="0.8" stroke-linecap="butt"/>
<line x1="209.90" y1="172.69" x2="211.60" y2="172.69" stroke="#000" stroke-width="0.8" stroke-linecap="butt"/>
<line x1="311.20" y1="172.69" x2="309.50" y2="172.69" stroke="#000" stroke-width="0.8" stroke-linecap="butt"/>
<line x1="209.90" y1="168.90" x2="211.60" y2="168.90" stroke="#000" stroke-width="0.8" stroke-linecap="butt"/>
<line x1="311.20" y1="168.90" x2="309.50" y2="168.90" stroke="#000" stroke-width="0.8" stroke-linecap="butt"/>
<line x1="209.90" y1="165.70" x2="211.60" y2="165.70" stroke="#000" stroke-width="0.8" stroke-linecap="butt"/>
<line x1="311.20" y1="165.70" x2="309.50" y2="165.70" stroke="#000" stroke-width="0.8" stroke-linecap="butt"/>
<line x1="209.90" y1="162.93" x2="211.60" y2="162.93" stroke="#000" stroke-width="0.8" stroke-linecap="butt"/>
<line x1="311.20" y1="162.93" x2="309.50" y2="162.93" stroke="#000" stroke-width="0.8" stroke-linecap="butt"/>
<line x1="209.90" y1="160.49" x2="211.60" y2="160.49" stroke="#000" stroke-width="0.8" stroke-linecap="butt"/>
<line x1="311.20" y1="160.49" x2="309.50" y2="160.49" stroke="#000" stroke-width="0.8" stroke-linecap="butt"/>
<line x1="209.90" y1="158.30" x2="213.10" y2="158.30" stroke="#000" stroke-width="1.05" stroke-linecap="butt"/>
<line x1="311.20" y1="158.30" x2="308.00" y2="158.30" stroke="#000" stroke-width="1.05" stroke-linecap="butt"/>
<line x1="209.90" y1="143.91" x2="211.60" y2="143.91" stroke="#000" stroke-width="0.8" stroke-linecap="butt"/>
<line x1="311.20" y1="143.91" x2="309.50" y2="143.91" stroke="#000" stroke-width="0.8" stroke-linecap="butt"/>
<line x1="209.90" y1="135.49" x2="211.60" y2="135.49" stroke="#000" stroke-width="0.8" stroke-linecap="butt"/>
<line x1="311.20" y1="135.49" x2="309.50" y2="135.49" stroke="#000" stroke-width="0.8" stroke-linecap="butt"/>
<line x1="209.90" y1="129.52" x2="211.60" y2="129.52" stroke="#000" stroke-width="0.8" stroke-linecap="butt"/>
<line x1="311.20" y1="129.52" x2="309.50" y2="129.52" stroke="#000" stroke-width="0.8" stroke-linecap="butt"/>
<line x1="209.90" y1="124.89" x2="211.60" y2="124.89" stroke="#000" stroke-width="0.8" stroke-linecap="butt"/>
<line x1="311.20" y1="124.89" x2="309.50" y2="124.89" stroke="#000" stroke-width="0.8" stroke-linecap="butt"/>
<line x1="209.90" y1="121.10" x2="211.60" y2="121.10" stroke="#000" stroke-width="0.8" stroke-linecap="butt"/>
<line x1="311.20" y1="121.10" x2="309.50" y2="121.10" stroke="#000" stroke-width="0.8" stroke-linecap="butt"/>
<line x1="209.90" y1="117.90" x2="211.60" y2="117.90" stroke="#000" stroke-width="0.8" stroke-linecap="butt"/>
<line x1="311.20" y1="117.90" x2="309.50" y2="117.90" stroke="#000" stroke-width="0.8" stroke-linecap="butt"/>
<line x1="209.90" y1="115.13" x2="211.60" y2="115.13" stroke="#000" stroke-width="0.8" stroke-linecap="butt"/>
<line x1="311.20" y1="115.13" x2="309.50" y2="115.13" stroke="#000" stroke-width="0.8" stroke-linecap="butt"/>
<line x1="209.90" y1="112.69" x2="211.60" y2="112.69" stroke="#000" stroke-width="0.8" stroke-linecap="butt"/>
<line x1="311.20" y1="112.69" x2="309.50" y2="112.69" stroke="#000" stroke-width="0.8" stroke-linecap="butt"/>
<line x1="209.90" y1="110.50" x2="213.10" y2="110.50" stroke="#000" stroke-width="1.05" stroke-linecap="butt"/>
<line x1="311.20" y1="110.50" x2="308.00" y2="110.50" stroke="#000" stroke-width="1.05" stroke-linecap="butt"/>
<line x1="209.90" y1="96.11" x2="211.60" y2="96.11" stroke="#000" stroke-width="0.8" stroke-linecap="butt"/>
<line x1="311.20" y1="96.11" x2="309.50" y2="96.11" stroke="#000" stroke-width="0.8" stroke-linecap="butt"/>
<line x1="209.90" y1="87.69" x2="211.60" y2="87.69" stroke="#000" stroke-width="0.8" stroke-linecap="butt"/>
<line x1="311.20" y1="87.69" x2="309.50" y2="87.69" stroke="#000" stroke-width="0.8" stroke-linecap="butt"/>
<line x1="209.90" y1="81.72" x2="211.60" y2="81.72" stroke="#000" stroke-width="0.8" stroke-linecap="butt"/>
<line x1="311.20" y1="81.72" x2="309.50" y2="81.72" stroke="#000" stroke-width="0.8" stroke-linecap="butt"/>
<line x1="209.90" y1="77.09" x2="211.60" y2="77.09" stroke="#000" stroke-width="0.8" stroke-linecap="butt"/>
<line x1="311.20" y1="77.09" x2="309.50" y2="77.09" stroke="#000" stroke-width="0.8" stroke-linecap="butt"/>
<line x1="209.90" y1="73.30" x2="211.60" y2="73.30" stroke="#000" stroke-width="0.8" stroke-linecap="butt"/>
<line x1="311.20" y1="73.30" x2="309.50" y2="73.30" stroke="#000" stroke-width="0.8" stroke-linecap="butt"/>
<line x1="209.90" y1="70.10" x2="211.60" y2="70.10" stroke="#000" stroke-width="0.8" stroke-linecap="butt"/>
<line x1="311.20" y1="70.10" x2="309.50" y2="70.10" stroke="#000" stroke-width="0.8" stroke-linecap="butt"/>
<line x1="209.90" y1="67.33" x2="211.60" y2="67.33" stroke="#000" stroke-width="0.8" stroke-linecap="butt"/>
<line x1="311.20" y1="67.33" x2="309.50" y2="67.33" stroke="#000" stroke-width="0.8" stroke-linecap="butt"/>
<line x1="209.90" y1="64.89" x2="211.60" y2="64.89" stroke="#000" stroke-width="0.8" stroke-linecap="butt"/>
<line x1="311.20" y1="64.89" x2="309.50" y2="64.89" stroke="#000" stroke-width="0.8" stroke-linecap="butt"/>
<line x1="209.90" y1="62.70" x2="213.10" y2="62.70" stroke="#000" stroke-width="1.05" stroke-linecap="butt"/>
<line x1="311.20" y1="62.70" x2="308.00" y2="62.70" stroke="#000" stroke-width="1.05" stroke-linecap="butt"/>
<line x1="209.90" y1="48.31" x2="211.60" y2="48.31" stroke="#000" stroke-width="0.8" stroke-linecap="butt"/>
<line x1="311.20" y1="48.31" x2="309.50" y2="48.31" stroke="#000" stroke-width="0.8" stroke-linecap="butt"/>
<line x1="209.90" y1="39.89" x2="211.60" y2="39.89" stroke="#000" stroke-width="0.8" stroke-linecap="butt"/>
<line x1="311.20" y1="39.89" x2="309.50" y2="39.89" stroke="#000" stroke-width="0.8" stroke-linecap="butt"/>
<line x1="209.90" y1="33.92" x2="211.60" y2="33.92" stroke="#000" stroke-width="0.8" stroke-linecap="butt"/>
<line x1="311.20" y1="33.92" x2="309.50" y2="33.92" stroke="#000" stroke-width="0.8" stroke-linecap="butt"/>
<line x1="209.90" y1="29.29" x2="211.60" y2="29.29" stroke="#000" stroke-width="0.8" stroke-linecap="butt"/>
<line x1="311.20" y1="29.29" x2="309.50" y2="29.29" stroke="#000" stroke-width="0.8" stroke-linecap="butt"/>
<line x1="209.90" y1="25.50" x2="211.60" y2="25.50" stroke="#000" stroke-width="0.8" stroke-linecap="butt"/>
<line x1="311.20" y1="25.50" x2="309.50" y2="25.50" stroke="#000" stroke-width="0.8" stroke-linecap="butt"/>
<line x1="209.90" y1="22.30" x2="211.60" y2="22.30" stroke="#000" stroke-width="0.8" stroke-linecap="butt"/>
<line x1="311.20" y1="22.30" x2="309.50" y2="22.30" stroke="#000" stroke-width="0.8" stroke-linecap="butt"/>
<line x1="209.90" y1="19.53" x2="211.60" y2="19.53" stroke="#000" stroke-width="0.8" stroke-linecap="butt"/>
<line x1="311.20" y1="19.53" x2="309.50" y2="19.53" stroke="#000" stroke-width="0.8" stroke-linecap="butt"/>
<line x1="209.90" y1="17.09" x2="211.60" y2="17.09" stroke="#000" stroke-width="0.8" stroke-linecap="butt"/>
<line x1="311.20" y1="17.09" x2="309.50" y2="17.09" stroke="#000" stroke-width="0.8" stroke-linecap="butt"/>
<text transform="translate(53.23,325.80) scale(1.0000,1)" x="-1.36" y="0" font-size="14.1" fill="#000" stroke-width="0.5" >1</text>
<text transform="translate(231.80,325.80) scale(0.9984,1)" x="-1.36" y="0" font-size="14.1" fill="#000" stroke-width="0.5" >10</text>
<text transform="translate(407.00,325.80) scale(1.0062,1)" x="-1.36" y="0" font-size="14.1" fill="#000" stroke-width="0.5" >100</text>
<text transform="translate(231.50,348.10) scale(0.9982,1)" x="-0.00" y="0" font-size="15.5" fill="#000" stroke-width="0.5" >T (K)</text>
<text transform="translate(29.00,78.40) scale(0.9495,1)" x="-1.36" y="0" font-size="14.1" fill="#000" stroke-width="0.5" >10</text>
<text transform="translate(44.84,71.20) scale(1.0000,1)" x="-0.84" y="0" font-size="8.7" fill="#000" stroke-width="0.35" >1</text>
<text transform="translate(29.00,153.20) scale(0.9425,1)" x="-1.36" y="0" font-size="14.1" fill="#000" stroke-width="0.5" >10</text>
<text transform="translate(43.90,146.10) scale(0.9716,1)" x="-0.00" y="0" font-size="8.7" fill="#000" stroke-width="0.35" >0</text>
<text transform="translate(25.20,227.50) scale(0.9635,1)" x="-1.36" y="0" font-size="14.1" fill="#000" stroke-width="0.5" >10</text>
<text transform="translate(40.20,220.30) scale(1.0420,1)" x="-0.00" y="0" font-size="8.7" fill="#000" stroke-width="0.35" >-1</text>
<text transform="translate(25.30,302.00) scale(0.9495,1)" x="-1.36" y="0" font-size="14.1" fill="#000" stroke-width="0.5" >10</text>
<text transform="translate(40.00,294.70) scale(0.9438,1)" x="-0.00" y="0" font-size="8.7" fill="#000" stroke-width="0.35" >-2</text>
<text transform="translate(8.30,210.40) rotate(-90) scale(1.0411,1)" x="-0.85" y="0" font-size="8.8" fill="#000" stroke-width="0.35">123</text>
<text transform="translate(16.70,195.30) rotate(-90) scale(1.0807,1)" x="-0.00" y="0" font-size="14" fill="#000" stroke-width="0.5">(1/T</text>
<text transform="translate(22.20,166.92) rotate(-90) scale(1.0000,1)" x="-0.85" y="0" font-size="8.8" fill="#000" stroke-width="0.35">1</text>
<text transform="translate(16.70,163.00) rotate(-90) scale(0.8580,1)" x="-0.00" y="0" font-size="14" fill="#000" stroke-width="0.5">)</text>
<text transform="translate(16.70,150.10) rotate(-90) scale(1.0393,1)" x="-0.00" y="0" font-size="14" fill="#000" stroke-width="0.5">(1/s)</text>
<text transform="translate(347.20,146.60) rotate(-90) scale(1.1043,1)" x="-1.38" y="0" font-size="14.3" fill="#000" stroke-width="0.5">1/T</text>
<text transform="translate(352.80,123.82) rotate(-90) scale(1.0000,1)" x="-0.85" y="0" font-size="8.8" fill="#000" stroke-width="0.35">1</text>
<text transform="translate(347.20,115.80) rotate(-90) scale(1.0245,1)" x="-0.00" y="0" font-size="14.3" fill="#000" stroke-width="0.5">(1/s)</text>
<text x="78.66" y="220.80" font-size="12.0" fill="#000" stroke-width="0.32">5</text>
<text transform="translate(94.10,220.80) scale(0.9188,1)" x="-1.15" y="0" font-size="12.0" fill="#000" stroke-width="0.32" >10</text>
<text transform="translate(110.80,220.80) scale(0.9352,1)" x="-1.15" y="0" font-size="12.0" fill="#000" stroke-width="0.32" >15</text>
<text transform="translate(125.80,220.80) scale(0.9592,1)" x="-0.00" y="0" font-size="12.0" fill="#000" stroke-width="0.32" >20</text>
<text transform="translate(143.00,220.80) scale(0.9442,1)" x="-0.00" y="0" font-size="12.0" fill="#000" stroke-width="0.32" >25</text>
<text transform="translate(159.90,220.80) scale(0.9517,1)" x="-0.00" y="0" font-size="12.0" fill="#000" stroke-width="0.32" >30</text>
<text transform="translate(174.10,21.00) scale(0.9914,1)" x="-1.15" y="0" font-size="12.0" fill="#000" stroke-width="0.32" >100</text>
<text transform="translate(173.40,109.60) scale(1.0501,1)" x="-1.15" y="0" font-size="12.0" fill="#000" stroke-width="0.32" >10</text>
<text transform="translate(173.99,197.90) scale(1.0000,1)" x="-1.15" y="0" font-size="12.0" fill="#000" stroke-width="0.32" >1</text>
<text transform="translate(85.80,240.90) scale(1.0117,1)" x="-1.31" y="0" font-size="13.6" fill="#000" stroke-width="0.5" >1000/T (1/K)</text>
<text transform="translate(120.90,37.10) scale(0.9620,1)" x="-0.00" y="0" font-size="8.6" fill="#000" stroke-width="0.35" >29</text>
<text transform="translate(130.50,44.70) scale(0.9360,1)" x="-0.00" y="0" font-size="14.0" fill="#000" stroke-width="0.5" >(1/T</text>
<text transform="translate(154.02,49.60) scale(1.0000,1)" x="-0.86" y="0" font-size="8.9" fill="#000" stroke-width="0.35" >1</text>
<text transform="translate(157.90,44.70) scale(0.7722,1)" x="-0.00" y="0" font-size="14.0" fill="#000" stroke-width="0.5" >)</text>
<text transform="translate(103.10,68.20) scale(0.9996,1)" x="-0.00" y="0" font-size="14.5" fill="#000" stroke-width="0.5" >FeSi</text>
<text transform="translate(230.20,220.20) scale(0.9742,1)" x="-0.00" y="0" font-size="12.0" fill="#000" stroke-width="0.32" >20</text>
<text transform="translate(258.60,220.20) scale(0.9667,1)" x="-0.00" y="0" font-size="12.0" fill="#000" stroke-width="0.32" >40</text>
<text transform="translate(291.60,220.20) scale(1.0042,1)" x="-0.00" y="0" font-size="12.0" fill="#000" stroke-width="0.32" >60</text>
<text transform="translate(315.20,19.80) scale(0.9967,1)" x="-1.15" y="0" font-size="12.0" fill="#000" stroke-width="0.32" >100</text>
<text transform="translate(315.30,67.30) scale(0.9680,1)" x="-1.15" y="0" font-size="12.0" fill="#000" stroke-width="0.32" >10</text>
<text transform="translate(315.69,114.90) scale(1.0000,1)" x="-1.15" y="0" font-size="12.0" fill="#000" stroke-width="0.32" >1</text>
<text transform="translate(314.50,163.50) scale(1.0578,1)" x="-0.00" y="0" font-size="12.0" fill="#000" stroke-width="0.32" >0.1</text>
<text transform="translate(314.40,211.60) scale(1.0405,1)" x="-0.00" y="0" font-size="12.0" fill="#000" stroke-width="0.32" >0.01</text>
<text transform="translate(226.80,240.40) scale(1.0110,1)" x="-1.32" y="0" font-size="13.7" fill="#000" stroke-width="0.5" >1000/T (1/K)</text>
<text transform="translate(261.30,35.20) scale(0.9436,1)" x="-0.86" y="0" font-size="8.9" fill="#000" stroke-width="0.35" >123</text>
<text transform="translate(275.00,42.50) scale(0.9985,1)" x="-0.00" y="0" font-size="13.8" fill="#000" stroke-width="0.5" >(1/T</text>
<text transform="translate(299.67,47.20) scale(1.0000,1)" x="-0.86" y="0" font-size="8.9" fill="#000" stroke-width="0.35" >1</text>
<text transform="translate(303.10,42.50) scale(0.7834,1)" x="-0.00" y="0" font-size="13.8" fill="#000" stroke-width="0.5" >)</text>
<text transform="translate(244.00,67.50) scale(0.9966,1)" x="-0.00" y="0" font-size="14.4" fill="#000" stroke-width="0.5" >FeSb</text>
<text transform="translate(278.60,73.30) scale(0.9775,1)" x="-0.00" y="0" font-size="9.2" fill="#000" stroke-width="0.35" >2</text>
<text transform="translate(416.90,129.50) scale(0.9840,1)" x="-0.00" y="0" font-size="14.5" fill="#000" stroke-width="0.5" >FeSb</text>
<text transform="translate(451.40,135.60) scale(0.9970,1)" x="-0.00" y="0" font-size="9.2" fill="#000" stroke-width="0.35" >2</text>
<text transform="translate(413.30,270.80) scale(0.9844,1)" x="-0.00" y="0" font-size="14.5" fill="#000" stroke-width="0.5" >RuSb</text>
<text transform="translate(449.40,277.10) scale(0.9970,1)" x="-0.00" y="0" font-size="9.2" fill="#000" stroke-width="0.35" >2</text>
</g>
</svg>
</body></html>
